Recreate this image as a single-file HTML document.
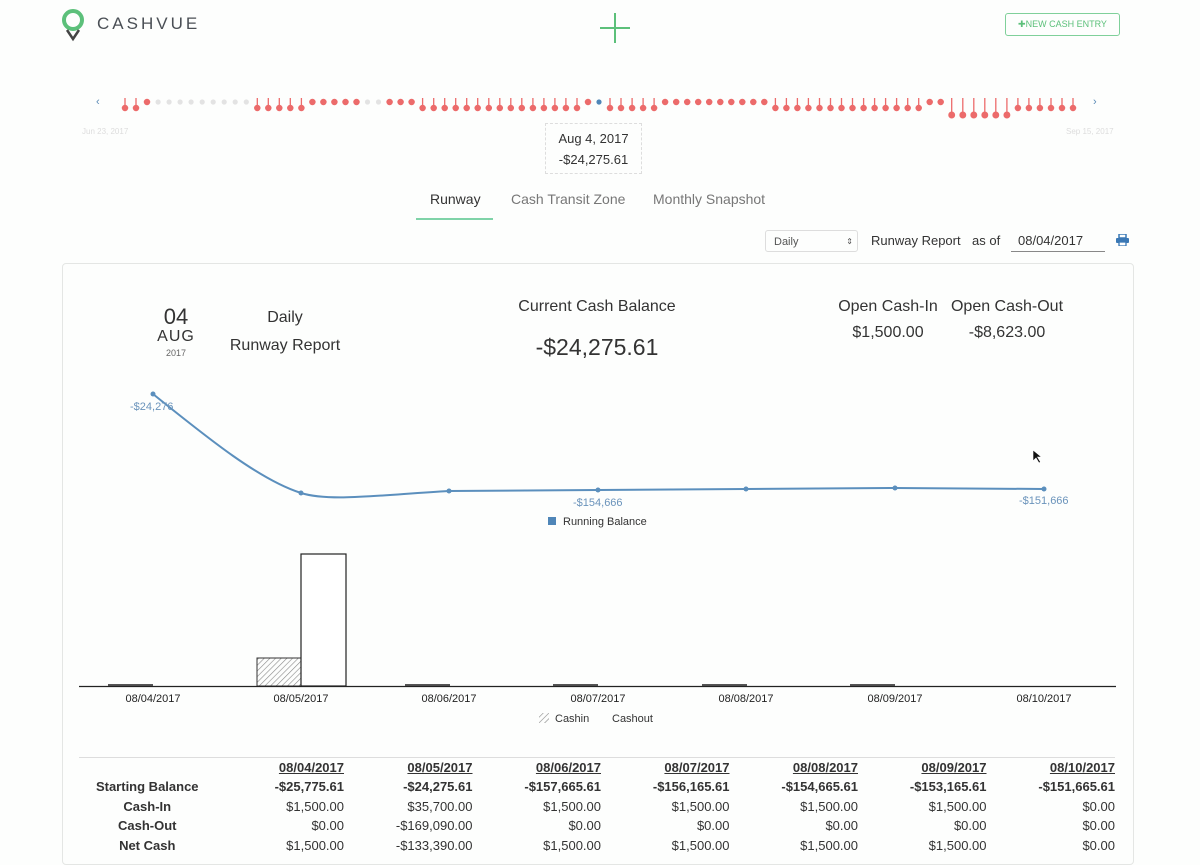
<!DOCTYPE html>
<html><head><meta charset="utf-8"><style>
body{margin:0;width:1200px;height:850px;overflow:hidden;background:#fdfefd;font-family:"Liberation Sans",sans-serif;color:#333;position:relative}
.a{position:absolute;white-space:nowrap}
.c{text-align:center}
.card{position:absolute;left:62px;top:263px;width:1070px;height:600px;border:1px solid #e4e6e4;border-radius:4px;background:#fdfefd}
table{position:absolute;left:79px;top:757px;border-collapse:collapse;font-size:13px;border-top:1px solid #ddd;table-layout:fixed;width:1036px}
td{height:19.5px;padding:0;text-align:right;width:128.5px;overflow:hidden}
td.l{text-align:center;font-weight:bold;width:136.5px;color:#333}
th{font-weight:bold;text-align:right;text-decoration:underline;height:19px;padding:0;font-size:13px}
th.l{width:136.5px}
</style></head><body>
<svg class="a" style="left:60px;top:8px" width="30" height="34" viewBox="0 0 30 34"><circle cx="13" cy="12" r="9" fill="none" stroke="#5cc07a" stroke-width="4"/><path d="M7 22 L13 31 L19 22" fill="none" stroke="#444" stroke-width="2.5"/></svg>
<div class="a" style="left:97px;top:14px;font-size:17px;letter-spacing:3px;color:#4a4f55">CASHVUE</div>
<div class="a" style="left:600px;top:27px;width:30px;height:2px;background:#5cc07a"></div>
<div class="a" style="left:614px;top:13px;width:2px;height:30px;background:#5cc07a"></div>
<div class="a c" style="left:1005px;top:13px;width:113px;height:21px;border:1.5px solid #7fd09a;border-radius:3px;font-size:9px;line-height:21px;color:#5cc07a">✚NEW CASH ENTRY</div>
<div class="a" style="left:96px;top:96px;font-size:11px;color:#5a8ab5">‹</div>
<div class="a" style="left:1093px;top:96px;font-size:11px;color:#5a8ab5">›</div>
<div class="a" style="left:82px;top:127px;font-size:8px;color:#ddd">Jun 23, 2017</div>
<div class="a" style="left:1066px;top:127px;font-size:8px;color:#ddd">Sep 15, 2017</div>
<svg class="a" style="left:0;top:90px" width="1200" height="30" id="dots">
<g fill="#ec6b6b" stroke="#ec6b6b" stroke-width="1.3">
</g></svg>
<div class="a c" style="left:545px;top:123px;width:97px;height:51px;border:1px dashed #ddd;font-size:13px;line-height:21px;padding-top:4px;box-sizing:border-box">Aug 4, 2017<br>-$24,275.61</div>
<div class="a" style="left:430px;top:191px;font-size:14px;color:#333">Runway</div>
<div class="a" style="left:416px;top:218px;width:77px;height:2px;background:#7fd3a8"></div>
<div class="a" style="left:511px;top:191px;font-size:14px;color:#777">Cash Transit Zone</div>
<div class="a" style="left:653px;top:191px;font-size:14px;color:#777">Monthly Snapshot</div>
<div class="a" style="left:765px;top:230px;width:93px;height:22px;border:1px solid #ddd;border-radius:3px;font-size:11px;line-height:22px;padding-left:8px;box-sizing:border-box;color:#555">Daily<span style="position:absolute;right:4px;font-size:8px">⇕</span></div>
<div class="a" style="left:871px;top:233px;font-size:13px">Runway Report</div>
<div class="a" style="left:972px;top:233px;font-size:13px">as of</div>
<div class="a" style="left:1011px;top:233px;width:94px;font-size:13px;border-bottom:1px solid #888;padding-left:7px;padding-bottom:3px;box-sizing:border-box">08/04/2017</div>
<svg class="a" style="left:1116px;top:234px" width="13" height="12"><rect x="3" y="0" width="7" height="4" fill="none" stroke="#3a78b5" stroke-width="1.5"/><rect x="0" y="4" width="13" height="5" rx="1" fill="#3a78b5"/><rect x="3" y="8" width="7" height="4" fill="#fff" stroke="#3a78b5" stroke-width="1.3"/></svg>
<div class="card"></div>
<div class="a c" style="left:140px;top:305px;width:72px;font-size:22px;line-height:24px;color:#333">04</div>
<div class="a c" style="left:140px;top:328px;width:72px;font-size:16px;letter-spacing:1px">AUG</div>
<div class="a c" style="left:140px;top:348px;width:72px;font-size:9px;color:#666">2017</div>
<div class="a c" style="left:225px;top:309px;width:120px;font-size:16px">Daily</div>
<div class="a c" style="left:225px;top:337px;width:120px;font-size:16px">Runway Report</div>
<div class="a c" style="left:497px;top:298px;width:200px;font-size:16px">Current Cash Balance</div>
<div class="a c" style="left:497px;top:334px;width:200px;font-size:23px">-$24,275.61</div>
<div class="a c" style="left:830px;top:298px;width:116px;font-size:16px">Open Cash-In</div>
<div class="a c" style="left:948px;top:298px;width:118px;font-size:16px">Open Cash-Out</div>
<div class="a c" style="left:830px;top:324px;width:116px;font-size:16px">$1,500.00</div>
<div class="a c" style="left:948px;top:324px;width:118px;font-size:16px">-$8,623.00</div>
<svg class="a" style="left:0;top:0" width="1200" height="850">
<defs><pattern id="h" width="4" height="4" patternUnits="userSpaceOnUse" patternTransform="rotate(45)"><line x1="0" y1="0" x2="0" y2="4" stroke="#888" stroke-width="1.2"/></pattern></defs>
<path d="M153 394 C210 440,260 480,301 493 C330 502,380 495,449 491 L598 490 L746 489 L895 488 L1044 489" fill="none" stroke="#5b8fbd" stroke-width="2"/>
<g fill="#5b8fbd"><circle cx="153" cy="394" r="2.5"/><circle cx="301" cy="493" r="2.5"/><circle cx="449" cy="491" r="2.5"/><circle cx="598" cy="490" r="2.5"/><circle cx="746" cy="489" r="2.5"/><circle cx="895" cy="488" r="2.5"/><circle cx="1044" cy="489" r="2.5"/></g>
<g font-family="Liberation Sans" font-size="11" fill="#6a93bb"><text x="130" y="410">-$24,276</text><text x="573" y="506">-$154,666</text><text x="1019" y="504">-$151,666</text></g>
<rect x="548" y="517" width="8" height="8" fill="#4f86b8"/>
<text x="563" y="525" font-family="Liberation Sans" font-size="11" fill="#333">Running Balance</text>
<rect x="257" y="658" width="44" height="28" fill="url(#h)" stroke="#333"/>
<rect x="301" y="554" width="45" height="132" fill="#fff" stroke="#222" stroke-width="1.2"/>
<g fill="#555"><rect x="108" y="684" width="45" height="2"/><rect x="405" y="684" width="45" height="2"/><rect x="553" y="684" width="45" height="2"/><rect x="702" y="684" width="45" height="2"/><rect x="850" y="684" width="45" height="2"/></g>
<line x1="79" y1="686.5" x2="1116" y2="686.5" stroke="#222" stroke-width="1.3"/>
<g font-family="Liberation Sans" font-size="11" fill="#222" text-anchor="middle"><text x="153" y="702">08/04/2017</text><text x="301" y="702">08/05/2017</text><text x="449" y="702">08/06/2017</text><text x="598" y="702">08/07/2017</text><text x="746" y="702">08/08/2017</text><text x="895" y="702">08/09/2017</text><text x="1044" y="702">08/10/2017</text></g>
<rect x="539" y="713" width="10" height="10" fill="url(#h)"/>
<text x="555" y="722" font-family="Liberation Sans" font-size="11" fill="#333">Cashin</text>
<text x="612" y="722" font-family="Liberation Sans" font-size="11" fill="#333">Cashout</text>
<path d="M1033 450 l0 11 l3 -3 l3 5 l1.5 -1 l-3 -5 l4 0 z" fill="#111" stroke="#fff" stroke-width=".6"/>
</svg>
<table>
<tr><th class="l"></th><th>08/04/2017</th><th>08/05/2017</th><th>08/06/2017</th><th>08/07/2017</th><th>08/08/2017</th><th>08/09/2017</th><th>08/10/2017</th></tr>
<tr style="font-weight:bold"><td class="l">Starting Balance</td><td>-$25,775.61</td><td>-$24,275.61</td><td>-$157,665.61</td><td>-$156,165.61</td><td>-$154,665.61</td><td>-$153,165.61</td><td>-$151,665.61</td></tr>
<tr><td class="l">Cash-In</td><td>$1,500.00</td><td>$35,700.00</td><td>$1,500.00</td><td>$1,500.00</td><td>$1,500.00</td><td>$1,500.00</td><td>$0.00</td></tr>
<tr><td class="l">Cash-Out</td><td>$0.00</td><td>-$169,090.00</td><td>$0.00</td><td>$0.00</td><td>$0.00</td><td>$0.00</td><td>$0.00</td></tr>
<tr><td class="l">Net Cash</td><td>$1,500.00</td><td>-$133,390.00</td><td>$1,500.00</td><td>$1,500.00</td><td>$1,500.00</td><td>$1,500.00</td><td>$0.00</td></tr>
</table>
<script>
var p="ssdgggggggggsssssdddddggdddsssssssssssssssdbsssssddddddddddssssssssssssssddllllllssssss";
var s="",n=p.length,x0=125,x1=1073;
for(var i=0;i<n;i++){var x=(x0+(x1-x0)*i/(n-1)).toFixed(1),c=p[i];
if(c=="g")s+='<circle cx="'+x+'" cy="12" r="2.6" fill="#e3e3e3" stroke="none"/>';
else if(c=="b")s+='<circle cx="'+x+'" cy="12" r="2.6" fill="#4f86b8" stroke="none"/>';
else if(c=="d")s+='<circle cx="'+x+'" cy="12" r="2.6"/>';
else if(c=="s")s+='<line x1="'+x+'" y1="8" x2="'+x+'" y2="18"/><circle cx="'+x+'" cy="18" r="2.6"/>';
else s+='<line x1="'+x+'" y1="8" x2="'+x+'" y2="25"/><circle cx="'+x+'" cy="25" r="2.8"/>';}
document.querySelector('#dots g').innerHTML=s;
</script>
</body></html>
